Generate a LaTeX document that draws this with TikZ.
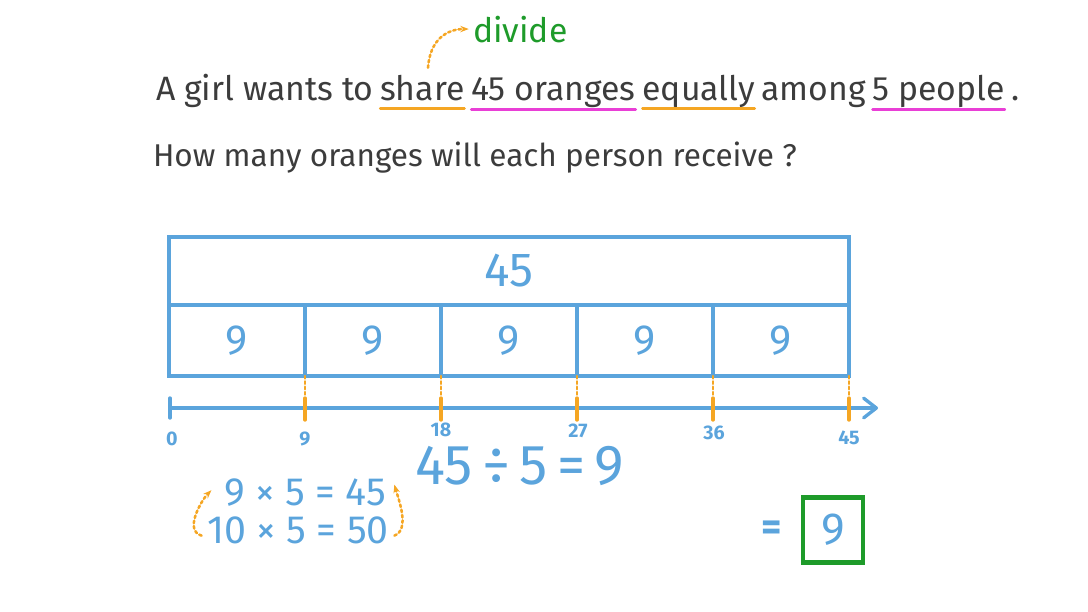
\documentclass[tikz,border=0pt]{standalone}
\usepackage{fontspec}
\setmainfont{Fira Sans}
\usetikzlibrary{arrows.meta, positioning}

\definecolor{inkgrey}{HTML}{3C3C3C}
\definecolor{barblue}{HTML}{5BA4DC}
\definecolor{hintorange}{HTML}{F5A623}
\definecolor{markpink}{HTML}{E93FD6}
\definecolor{leafgreen}{HTML}{1E9B2A}

\begin{document}
\begin{tikzpicture}[
        x=0.025cm, y=-0.025cm,
        node distance=0.17cm,
        every node/.style={inner sep=0pt, outer sep=0pt},
        words/.style={anchor=base west, text=inkgrey, font=\fontsize{24}{24}\selectfont},
        bar/.style={draw=barblue, line width=2.8pt, text=barblue},
        ticklab/.style={text=barblue, font=\fontsize{14}{14}\selectfont\bfseries},
        sums/.style={text=barblue, font=\fontsize{28}{28}\selectfont},
        uline/.style={line width=2pt, line cap=round},
        hint/.style={draw=hintorange, line width=1.8pt, dotted, line cap=round},
        >=Stealth
    ]
    \useasboundingbox (0,0) rectangle (1088,612);

    % question text
    \node[anchor=base west, text=leafgreen, font=\fontsize{24}{24}\selectfont] (divide) at (473,42) {divide};
    \node[words] (girl) at (156,100) {A girl wants to};
    \node[words, base right=of girl] (share) {share};
    \node[words, base right=of share] (oranges) {45 oranges};
    \node[words, base right=of oranges] (equally) {equally};
    \node[words, base right=of equally] (among) {among};
    \node[words, base right=of among] (people) {5 people};
    \node[words, base right=of people] (stop) {.};
    \node[words, font=\fontsize{22.4}{24}\selectfont] (ask) at (153,166) {How many oranges will each person receive ?};

    % underlines
    \draw[uline, hintorange] ([yshift=-6pt]share.base west) -- ([yshift=-6pt]share.base east);
    \draw[uline, markpink] ([yshift=-7pt]oranges.base west) -- ([yshift=-7pt]oranges.base east);
    \draw[uline, hintorange] ([yshift=-6pt]equally.base west) -- ([yshift=-6pt]equally.base east);
    \draw[uline, markpink] ([yshift=-7pt]people.base west) -- ([yshift=-7pt]people.base east);

    % share -> divide
    \draw[hint, -{Stealth[length=6pt]}] ([xshift=4pt, yshift=5pt]share.north)
        .. controls +(2,-28) and +(-22,0) .. ([xshift=-3pt]divide.west);

    % bar model
    \node[bar, minimum width=17cm, minimum height=1.7cm,
          font=\fontsize{34}{34}\selectfont] (whole) at (509,271) {45};
    \foreach \i in {1,...,5}
        \node[bar, minimum width=3.4cm, minimum height=1.775cm,
              font=\fontsize{30}{30}\selectfont] (part\i) at (237+136*\i-136,340.5) {9};

    % number line
    \coordinate (zero) at (170,408);
    \coordinate (tip) at (878,408);
    \draw[barblue, line width=2.4pt, -{Straight Barb[length=9pt, width=14pt, round]}] (zero) -- (tip);
    \draw[barblue, line width=2.4pt, line cap=round] (170,398) -- (170,418);
    \foreach \i in {1,...,5} {
        \draw[hint] (part\i.south east) -- ++(0,20);
        \draw[hintorange, line width=2.4pt, line cap=round] ([yshift=-22*0.025cm]part\i.south east) -- ++(0,22);
    }
    \node[ticklab] (lab0) at (172,439) {0};
    \node[ticklab] (lab9) at (305,439) {9};
    \node[ticklab] (lab18) at (441,430) {18};
    \node[ticklab] (lab27) at (578,431) {27};
    \node[ticklab] (lab36) at (714,433) {36};
    \node[ticklab] (lab45) at (849,438) {45};

    % working
    \node[text=barblue, font=\fontsize{40}{40}\selectfont] (division) at (520,466) {45\,÷\,5\,=\,9};
    \node[sums] (eqa) at (305,493) {9 × 5 = 45};
    \node[sums] (eqb) at (298,530) {10 × 5 = 50};
    \draw[hint, -{Stealth[length=6pt]}] ([xshift=-4pt, yshift=-4pt]eqb.west)
        .. controls +(-18,-5) and +(-10,10) .. ([xshift=-9pt, yshift=2pt]eqa.west);
    \draw[hint, -{Stealth[length=6pt]}] ([xshift=4pt, yshift=-4pt]eqb.east)
        .. controls +(16,-6) and +(4,14) .. ([xshift=6pt, yshift=6pt]eqa.east);

    % answer
    \node[text=barblue, font=\fontsize{28}{28}\selectfont\bfseries] (equals) at (772,531) {=};
    \node[draw=leafgreen, line width=3pt, minimum width=1.5cm, minimum height=1.62cm,
          text=barblue, font=\fontsize{32}{32}\selectfont] (answer) at (833,530) {9};
\end{tikzpicture}
\end{document}
